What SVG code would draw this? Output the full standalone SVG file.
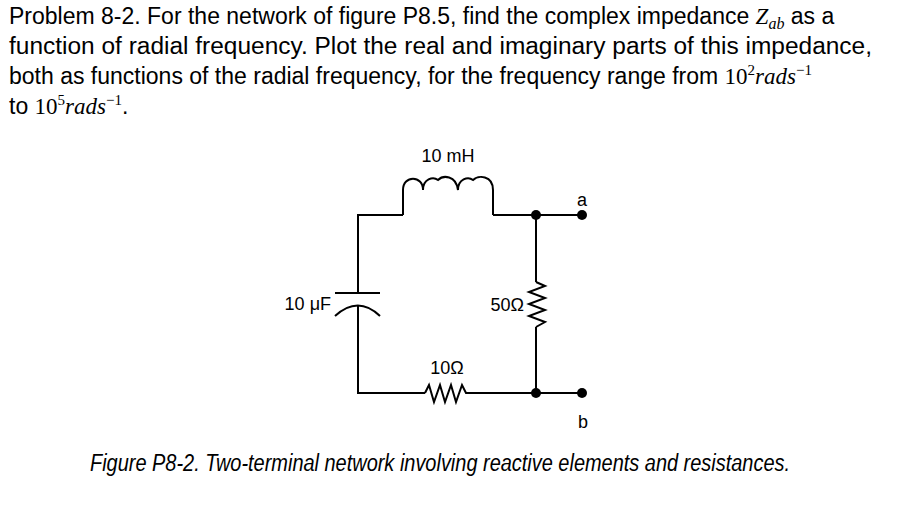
<svg xmlns="http://www.w3.org/2000/svg" width="912" height="513" viewBox="0 0 912 513">
<style>
.t{font-family:"Liberation Sans",Arial,sans-serif;font-size:23px;fill:#000}
.m{font-family:"Liberation Serif","DejaVu Serif",serif;font-style:italic}
.n{font-family:"Liberation Serif","DejaVu Serif",serif}
.l{font-family:"Liberation Sans",Arial,sans-serif;font-size:18px;fill:#000}
.w{stroke:#000;stroke-width:2;fill:none}
</style>
<rect width="912" height="513" fill="#fff"/>
<g id="text">
<text class="t" x="9" y="24">Problem 8-2. For the network of figure P8.5, find the complex impedance <tspan class="m">Z</tspan><tspan class="m" font-size="16" dy="5">ab</tspan><tspan dy="-5"> as a</tspan></text>
<text class="t" x="9" y="54" textLength="863" lengthAdjust="spacingAndGlyphs">function of radial frequency.  Plot the real and imaginary parts of this impedance,</text>
<text class="t" x="9" y="84">both as functions of the radial frequency, for the frequency range from <tspan class="n">10</tspan><tspan class="n" font-size="15" dy="-9">2</tspan><tspan class="m" dy="9">rads</tspan><tspan class="n" font-size="15" dy="-9">−1</tspan></text>
<text class="t" x="9" y="114">to <tspan class="n">10</tspan><tspan class="n" font-size="15" dy="-9">5</tspan><tspan class="m" dy="9">rads</tspan><tspan class="n" font-size="15" dy="-9">−1</tspan><tspan dy="9">.</tspan></text>
<text class="t" x="440" y="471" text-anchor="middle" font-size="16.5" font-style="italic" textLength="700" lengthAdjust="spacingAndGlyphs">Figure P8-2. Two-terminal network involving reactive elements and resistances.</text>
</g>
<g id="connectors">
<path class="w" d="M403,215 H358 V293 M358,305 V393 H425 M470,393 H582 M493,215 H582 M536,215 V282 M536,327 V393"/>
</g>
<g id="L1"><path class="w" d="M403,215 V190 C403,175 423,175 423,190 C423,179 433,176 438,180 C443,175 456,175 458,190 C458,179 468,176 473,180 C478,175 493,175 493,190 V215"/><text class="l" x="448" y="162" text-anchor="middle">10 mH</text></g>
<g id="C1"><path class="w" d="M335,293 H380 M335,316 Q358,295 380,316"/><text class="l" x="331" y="310" text-anchor="end">10 μF</text></g>
<g id="R50"><path class="w" d="M536,282 L545,286 L529,292 L545,298 L529,304 L545,310 L529,316 L545,322 L536,327"/><text class="l" x="524" y="311" text-anchor="end">50Ω</text></g>
<g id="R10"><path class="w" d="M425,393 L429,385 L434,402 L440,385 L445,402 L451,385 L456,402 L462,385 L466,393 L470,393"/><text class="l" x="447" y="374" text-anchor="middle">10Ω</text></g>
<g id="nodes"><circle cx="536" cy="215" r="5"/><circle cx="582" cy="215" r="5"/><circle cx="536" cy="393" r="5"/><circle cx="582" cy="393" r="5"/></g>
<g id="a"><text class="l" x="582" y="206" text-anchor="middle">a</text></g>
<g id="b"><text class="l" x="583" y="428" text-anchor="middle">b</text></g>
</svg>
